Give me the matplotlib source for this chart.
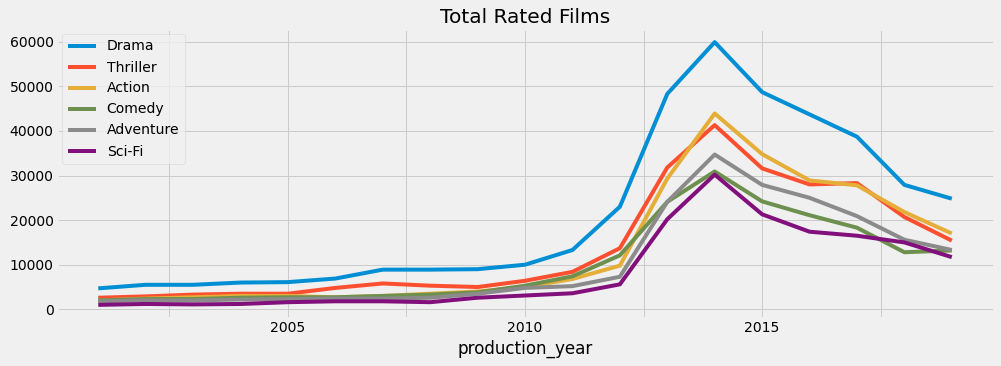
import matplotlib
matplotlib.use("Agg")
import matplotlib.pyplot as plt
from matplotlib.ticker import FixedLocator, NullFormatter

plt.style.use("fivethirtyeight")

years = list(range(2001, 2020))
genres = ["Drama", "Thriller", "Action", "Comedy", "Adventure", "Sci-Fi"]
drama = [4700, 5500, 5500, 6000, 6100, 6900, 8900, 8900, 9000, 10000, 13300, 23000, 48300, 59900, 48700, 43700, 38700, 27900, 24800]
thriller = [2600, 2900, 3300, 3500, 3500, 4800, 5800, 5300, 5000, 6400, 8400, 13700, 31800, 41300, 31600, 28000, 28300, 20700, 15400]
action = [2000, 2400, 2700, 3000, 3000, 2700, 3000, 3500, 4000, 5000, 6800, 9800, 29300, 43900, 34800, 28900, 27800, 21800, 17000]
comedy = [2000, 2300, 2300, 2600, 2700, 2700, 3000, 3300, 3800, 5300, 7400, 12100, 24100, 30900, 24200, 21100, 18300, 12800, 13200]
adventure = [1800, 2000, 2000, 2200, 2300, 2400, 2400, 2600, 3500, 4800, 5200, 7300, 24100, 34700, 27900, 25000, 20900, 15600, 13300]
scifi = [1000, 1200, 1100, 1200, 1600, 1800, 1800, 1600, 2600, 3100, 3600, 5600, 20200, 30200, 21300, 17400, 16500, 15000, 11700]
series = [drama, thriller, action, comedy, adventure, scifi]

major_ticks = [2005, 2010, 2015]
minor_ticks = [2002.5, 2007.5, 2012.5, 2017.5]

fig = plt.figure(figsize=(1001 / 72, 366 / 72), dpi=72)
ax = fig.add_axes([57 / 1001, 1 - 318 / 366, (994 - 57) / 1001, (318 - 29) / 366])

for name, vals in zip(genres, series):
    ax.plot(years, vals, label=name)

ax.set_xlim(2000.13, 2019.89)
ax.xaxis.set_major_locator(FixedLocator(major_ticks))
ax.xaxis.set_minor_locator(FixedLocator(minor_ticks))
ax.xaxis.set_minor_formatter(NullFormatter())
ax.set_xticklabels([str(t) for t in major_ticks])
ax.grid(True, which="both", axis="x")
ax.grid(True, which="major", axis="y")
ax.set_xlabel("production_year")
ax.set_title("Total Rated Films")
ax.legend(loc="upper left", borderaxespad=0.35)

fig.savefig("out.png", dpi=72, facecolor=fig.get_facecolor())
